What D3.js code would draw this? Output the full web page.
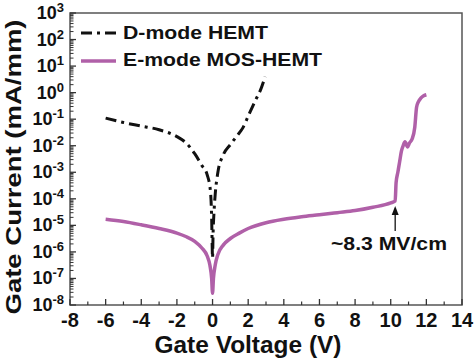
<!DOCTYPE html>
<html>
<head>
<meta charset="utf-8">
<script src="https://cdn.jsdelivr.net/npm/d3@7"></script>
<style>
  body { margin: 0; background: #fff; }
  svg text { font-family: "Liberation Sans", Arial, sans-serif; font-weight: bold; fill: #111; }
</style>
</head>
<body>
<div class="canvas"></div>
<script>

// D-mode HEMT gate current (mA/mm) vs gate voltage (V)
var dVolt = [-6, -5, -4, -3, -2, -1.5, -1, -0.6, -0.3, -0.12, -0.05, 0,
  0.03, 0.08, 0.15, 0.3, 0.6, 1.0, 1.4, 1.7, 2.0, 2.4, 2.7, 2.95];
var dCurr = [0.11, 0.075, 0.055, 0.04, 0.022, 0.013, 0.005, 0.0018, 8e-4, 2e-4, 2e-5, 6e-7,
  5e-6, 3e-5, 1.5e-4, 1e-3, 4.5e-3, 0.011, 0.025, 0.047, 0.13, 0.5, 1.3, 4.0];

// E-mode MOS-HEMT
var eVolt = [-6, -5, -4, -3, -2, -1.5, -1, -0.6, -0.3, -0.15, -0.05, 0,
  0.05, 0.15, 0.3, 0.6, 1.0, 1.5, 2, 3, 4, 5, 6, 7, 8, 9, 10, 10.25,
  10.3, 10.4, 10.5, 10.6, 10.7, 10.8, 10.95, 11.05, 11.2, 11.35, 11.45, 11.55, 11.7, 11.85, 12.0];
var eCurr = [1.7e-5, 1.4e-5, 1.05e-5, 7.6e-6, 5.1e-6, 3.8e-6, 2.5e-6, 1.4e-6, 7e-7, 3.2e-7, 1e-7, 2.8e-8,
  1e-7, 3.2e-7, 8e-7, 1.8e-6, 3.2e-6, 5.1e-6, 7.6e-6, 1.26e-5, 1.7e-5, 2.1e-5, 2.5e-5, 3e-5, 3.6e-5, 4.8e-5, 7e-5, 8.3e-5,
  4e-4, 1e-3, 2.5e-3, 6.3e-3, 0.01, 0.014, 0.009, 0.0126, 0.018, 0.05, 0.28, 0.45, 0.63, 0.76, 0.83];

var xTicks = [-8, -6, -4, -2, 0, 2, 4, 6, 8, 10, 12, 14];
var yExps = [3, 2, 1, 0, -1, -2, -3, -4, -5, -6, -7, -8];

var W = 474, H = 362;
var pL = 70, pR = 462, pT = 13, pB = 305;
var PURPLE = "#b060a8";

var svg = d3.select(".canvas").append("svg")
  .attr("width", W).attr("height", H);

var x = d3.scaleLinear().domain([-8, 14]).range([pL, pR]);
var y = d3.scaleLog().domain([1e-8, 1e3]).range([pB, pT]);

// frame
svg.append("rect")
  .attr("x", pL).attr("y", pT)
  .attr("width", pR - pL).attr("height", pB - pT)
  .attr("fill", "none").attr("stroke", "#555").attr("stroke-width", 1.5);

// x axis ticks (inward)
var xMinor = d3.range(-7, 14, 2);
svg.append("g").selectAll("line").data(xTicks).join("line")
  .attr("x1", d => x(d)).attr("x2", d => x(d))
  .attr("y1", pB).attr("y2", pB - 6)
  .attr("stroke", "#333").attr("stroke-width", 1.3);
svg.append("g").selectAll("line").data(xMinor).join("line")
  .attr("x1", d => x(d)).attr("x2", d => x(d))
  .attr("y1", pB).attr("y2", pB - 3.5)
  .attr("stroke", "#333").attr("stroke-width", 1.2);
svg.append("g").selectAll("text").data(xTicks).join("text")
  .attr("x", d => x(d)).attr("y", 327)
  .attr("text-anchor", "middle").attr("font-size", 20)
  .text(d => d);

// y axis ticks (inward), log minors
var yMinor = [];
yExps.forEach(function(e) {
  if (e < 3) d3.range(2, 10).forEach(function(m) { yMinor.push(m * Math.pow(10, e)); });
});
svg.append("g").selectAll("line").data(yMinor).join("line")
  .attr("x1", pL).attr("x2", pL + 3.5)
  .attr("y1", d => y(d)).attr("y2", d => y(d))
  .attr("stroke", "#333").attr("stroke-width", 1);
svg.append("g").selectAll("line").data(yExps).join("line")
  .attr("x1", pL).attr("x2", pL + 6)
  .attr("y1", d => y(Math.pow(10, d))).attr("y2", d => y(Math.pow(10, d)))
  .attr("stroke", "#333").attr("stroke-width", 1.3);
var yl = svg.append("g").selectAll("text").data(yExps).join("text")
  .attr("x", 64).attr("y", d => y(Math.pow(10, d)) + 6)
  .attr("text-anchor", "end").attr("font-size", 18);
yl.append("tspan").text("10");
yl.append("tspan").attr("dy", -7).attr("font-size", 13).text(d => d);

// axis titles
svg.append("text")
  .attr("x", 248).attr("y", 353)
  .attr("text-anchor", "middle").attr("font-size", 23)
  .attr("textLength", 187).attr("lengthAdjust", "spacingAndGlyphs")
  .text("Gate Voltage (V)");
svg.append("text")
  .attr("transform", "translate(21,167)rotate(-90)")
  .attr("text-anchor", "middle").attr("font-size", 22)
  .attr("textLength", 295).attr("lengthAdjust", "spacingAndGlyphs")
  .text("Gate Current (mA/mm)");

var line = d3.line()
  .x(d => x(d[0])).y(d => y(d[1]))
  .curve(d3.curveMonotoneX);

svg.append("path")
  .datum(d3.zip(eVolt, eCurr))
  .attr("d", line)
  .attr("fill", "none").attr("stroke", PURPLE).attr("stroke-width", 3.5)
  .attr("stroke-linejoin", "round");

svg.append("path")
  .datum(d3.zip(dVolt, dCurr))
  .attr("d", line)
  .attr("fill", "none").attr("stroke", "#111").attr("stroke-width", 3)
  .attr("stroke-dasharray", "11,5,3,5");

// legend
svg.append("line")
  .attr("x1", 81).attr("x2", 116).attr("y1", 33).attr("y2", 33)
  .attr("stroke", "#111").attr("stroke-width", 3)
  .attr("stroke-dasharray", "11,5,3,5");
svg.append("text").attr("x", 123).attr("y", 39).attr("font-size", 19)
  .attr("textLength", 145).attr("lengthAdjust", "spacingAndGlyphs")
  .text("D-mode HEMT");
svg.append("line")
  .attr("x1", 81).attr("x2", 116).attr("y1", 61).attr("y2", 61)
  .attr("stroke", PURPLE).attr("stroke-width", 3.5);
svg.append("text").attr("x", 123).attr("y", 66).attr("font-size", 19)
  .attr("textLength", 199).attr("lengthAdjust", "spacingAndGlyphs")
  .text("E-mode MOS-HEMT");

// annotation
svg.append("line")
  .attr("x1", x(10.25)).attr("x2", x(10.25)).attr("y1", 231).attr("y2", 212)
  .attr("stroke", "#111").attr("stroke-width", 1.3);
svg.append("path")
  .attr("d", "M" + x(10.25) + ",206l-3.5,9h7z")
  .attr("fill", "#111");
svg.append("text")
  .attr("x", 389).attr("y", 250).attr("text-anchor", "middle").attr("font-size", 19)
  .attr("textLength", 116).attr("lengthAdjust", "spacingAndGlyphs")
  .text("~8.3 MV/cm");

</script>
</body>
</html>
